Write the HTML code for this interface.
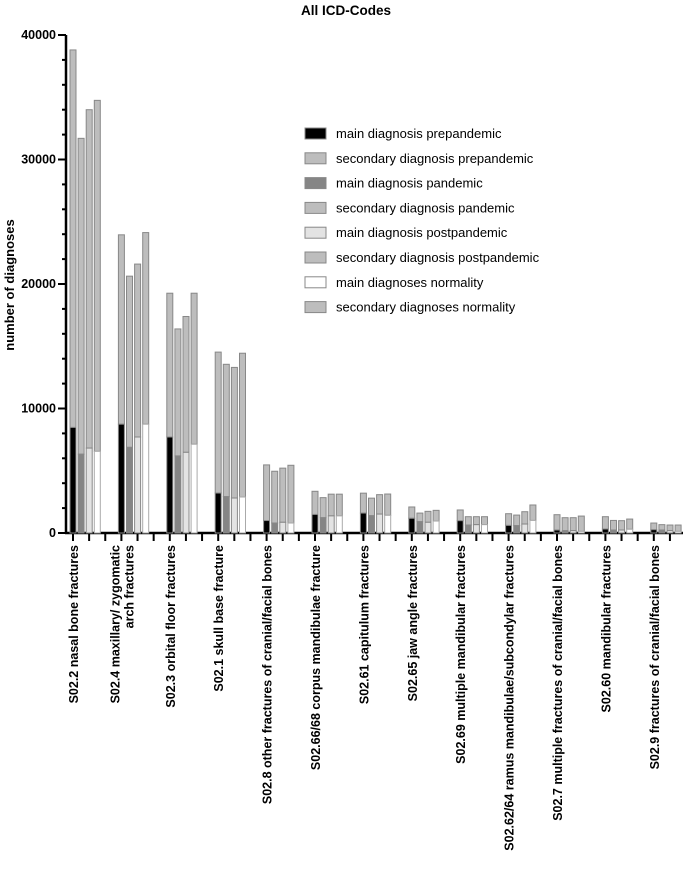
<!DOCTYPE html>
<html><head><meta charset="utf-8"><style>
body{margin:0;background:#fff}
svg text{font-family:"Liberation Sans",Arial,sans-serif}
</style></head><body>
<svg id="chart" width="685" height="871" xmlns="http://www.w3.org/2000/svg">
<text x="346" y="15" font-size="13.5" font-weight="bold" text-anchor="middle">All ICD-Codes</text>
<text transform="translate(14,285) rotate(-90)" font-size="13" font-weight="bold" text-anchor="middle">number of diagnoses</text>
<g id="axes"></g><g id="bars"></g><g id="labels"></g><g id="legend"></g>
</svg>
<script>
const categories=[["S02.2 nasal bone fractures"],["S02.4 maxillary/ zygomatic","arch fractures"],["S02.3 orbital floor fractures"],["S02.1 skull base fracture"],["S02.8 other fractures of cranial/facial bones"],["S02.66/68 corpus  mandibulae fracture"],["S02.61 capitulum fractures"],["S02.65 jaw angle fractures"],["S02.69 multiple mandibular fractures"],["S02.62/64 ramus mandibulae/subcondylar fractures"],["S02.7 multiple fractures of cranial/facial bones"],["S02.60 mandibular fractures"],["S02.9 fractures of cranial/facial bones"]];
const totals=[[38800,31700,34000,34750],[23950,20630,21600,24130],[19260,16390,17390,19260],[14530,13550,13300,14440],[5470,4960,5210,5440],[3350,2840,3120,3120],[3200,2800,3080,3130],[2090,1600,1740,1820],[1850,1310,1310,1310],[1550,1440,1710,2250],[1470,1230,1230,1360],[1310,1010,990,1120],[800,670,640,640]];
const mains=[[8480,6330,6820,6560],[8740,6880,7710,8740],[7710,6190,6480,7130],[3210,2920,2810,2890],[1000,800,860,800],[1490,1230,1375,1375],[1600,1390,1520,1420],[1180,910,860,960],[990,640,670,670],[610,590,720,1010],[240,190,190,130],[320,240,240,300],[270,240,190,130]];
const yTicks=[0,10000,20000,30000,40000];
const legendLabels=["main diagnosis prepandemic","secondary diagnosis prepandemic","main diagnosis pandemic","secondary diagnosis pandemic","main diagnosis postpandemic","secondary diagnosis postpandemic","main diagnoses normality","secondary diagnoses normality"];
const mainColors=["#000","#858585","#e3e3e3","#fff"];
const secColor="#bdbdbd";
const NS="http://www.w3.org/2000/svg";
function y(v){return 533-v*498/40000;}
function gx(i){return 73+i*48.4;}
function mk(tag,attrs,parent){const e=document.createElementNS(NS,tag);for(const k in attrs)e.setAttribute(k,attrs[k]);parent.appendChild(e);return e;}
const axes=document.getElementById('axes'),bars=document.getElementById('bars'),labels=document.getElementById('labels'),legend=document.getElementById('legend');
let a=mk('line',{x1:66,y1:y(40000),x2:66,y2:534,stroke:'#000','stroke-width':2.5},axes);


for(let v=0;v<=40000;v+=2000){const maj=v%10000===0;mk('line',{x1:maj?58:62,x2:66,y1:y(v),y2:y(v),stroke:'#000','stroke-width':2},axes);}
yTicks.forEach(v=>{const t=mk('text',{x:56,y:y(v)+4,'font-size':12.5,'font-weight':'bold','text-anchor':'end'},axes);t.textContent=v;

});
let xa=mk('line',{x1:65,y1:533,x2:683,y2:533,stroke:'#000','stroke-width':2.5},axes);


for(let i=0;i<categories.length*3;i++){const x=gx(0)+i*48.4/3;if(x>683)break;mk('line',{x1:x,x2:x,y1:533,y2:541,stroke:'#000','stroke-width':2},axes);}
categories.forEach((c,i)=>{
  for(let j=0;j<4;j++){
    const x=gx(i)+j*8.1-3;
    const s=mk('rect',{x:x,y:y(totals[i][j]),width:6,height:y(mains[i][j])-y(totals[i][j]),fill:secColor,stroke:'#888','stroke-width':1},bars);
    
    
    const m=mk('rect',{x:x,y:y(mains[i][j]),width:6,height:533-y(mains[i][j]),fill:mainColors[j],stroke:j===3?'#aaa':'#888','stroke-width':1},bars);
    
    
  }
  c.forEach((line,k)=>{
    const lx=gx(i)+5+(k-(c.length-1)/2)*14;
    const t=mk('text',{transform:`translate(${lx},545) rotate(-90)`,'font-size':12.5,'font-weight':'bold','text-anchor':'end'},labels);
    t.textContent=line;
    
    
  });
});
const legColors=["#000",secColor,"#858585",secColor,"#e3e3e3",secColor,"#fff",secColor];
legendLabels.forEach((l,i)=>{
  const yy=133+i*24.8;
  const r=mk('rect',{x:305,y:yy-5,width:21,height:11,fill:legColors[i],stroke:'#888','stroke-width':1},legend);
  
  
  const t=mk('text',{x:336,y:yy+5,'font-size':13},legend);
  t.textContent=l;
  
  
});
</script>
</body></html>
